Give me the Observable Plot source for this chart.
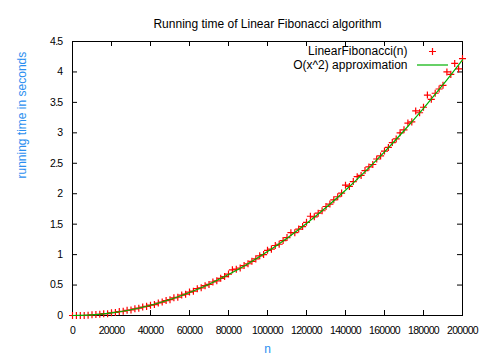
<!DOCTYPE html>
<html>
<head>
<meta charset="utf-8">
<script src="https://cdn.jsdelivr.net/npm/d3@7"></script>
<script src="https://cdn.jsdelivr.net/npm/@observablehq/plot@0.6"></script>
<style>
  html, body { margin: 0; padding: 0; background: #fff; }
  svg { display: block; }
  g[aria-label="x-axis tick label"] text, g[aria-label="y-axis tick label"] text { letter-spacing: -0.7px; }
</style>
</head>
<body>
<div id="chart"></div>
<script>
// Measured points: n (step 2000) and running time in seconds
const nValues = d3.range(0, 200001, 2000);
const measuredTimes = [
  0, 0, 0, 0, 0.004, 0.012, 0.016, 0.02, 0.03, 0.03,
  0.045, 0.05, 0.065, 0.07, 0.085, 0.09, 0.11, 0.12, 0.14, 0.15,
  0.17, 0.18, 0.205, 0.22, 0.245, 0.26, 0.29, 0.30, 0.335, 0.35,
  0.385, 0.40, 0.44, 0.455, 0.49, 0.51, 0.55, 0.57, 0.61, 0.64,
  0.68, 0.75, 0.76, 0.78, 0.82, 0.85, 0.89, 0.93, 0.98, 1.0,
  1.07, 1.09, 1.15, 1.17, 1.23, 1.28, 1.36, 1.36, 1.42, 1.46,
  1.53, 1.63, 1.62, 1.68, 1.72, 1.79, 1.83, 1.90, 1.95, 2.01,
  2.14, 2.12, 2.20, 2.28, 2.30, 2.38, 2.44, 2.48, 2.57, 2.62,
  2.70, 2.76, 2.84, 2.90, 3.0, 3.05, 3.16, 3.18, 3.36, 3.33,
  3.42, 3.62, 3.55, 3.65, 3.72, 3.78, 4.0, 3.96, 4.14, 4.05,
  4.22
];
// O(x^2) approximation curve, read every 10000
const approxN = d3.range(0, 200001, 10000);
const approxTimes = [
  0, 0.0105, 0.042, 0.0945, 0.168, 0.2625, 0.378, 0.5145, 0.672, 0.8505,
  1.05, 1.2705, 1.512, 1.7745, 2.058, 2.3625, 2.688, 3.0345, 3.402, 3.7905, 4.2
];
const xTicks = [0, 20000, 40000, 60000, 80000, 100000, 120000, 140000, 160000, 180000, 200000];
const yTicks = [0, 0.5, 1, 1.5, 2, 2.5, 3, 3.5, 4, 4.5];

const title = "Running time of Linear Fibonacci algorithm";
const xLabel = "n";
const yLabel = "running time in seconds";
const seriesNames = ["LinearFibonacci(n)", "O(x^2) approximation"];

const measured = nValues.map((n, i) => ({n, t: measuredTimes[i]}));
const approx = approxN.map((n, i) => ({n, t: approxTimes[i]}));

const RED = "#ff0000";
const GREEN = "#00b000";
const BLUE = "#2b8ff0";
const W = 480, H = 360, ML = 72, MR = 18, MT = 41, MB = 45;
const PW = W - ML - MR, PH = H - MT - MB;
const TICK = 5;

const chart = Plot.plot({
  width: W,
  height: H,
  marginLeft: ML,
  marginRight: MR,
  marginTop: MT,
  marginBottom: MB,
  style: {fontFamily: "'Liberation Sans', Arial, sans-serif", fontSize: "10.5px", background: "#fff", color: "#000"},
  x: {domain: [0, 200000]},
  y: {domain: [0, 4.5]},
  marks: [
    Plot.frame({stroke: "#000", strokeWidth: 1}),
    // inward tick marks on all four sides
    Plot.tickX(xTicks, {x: d => d, insetTop: PH - TICK, stroke: "#000"}),
    Plot.tickX(xTicks, {x: d => d, insetBottom: PH - TICK, stroke: "#000"}),
    Plot.tickY(yTicks, {y: d => d, insetRight: PW - TICK, stroke: "#000"}),
    Plot.tickY(yTicks, {y: d => d, insetLeft: PW - TICK, stroke: "#000"}),
    Plot.axisX({ticks: xTicks, tickSize: 0, tickPadding: 11, tickFormat: d3.format("d"), label: null}),
    Plot.axisY({ticks: yTicks, tickSize: 0, tickPadding: 10, tickFormat: d => String(d), label: null}),
    Plot.dot(measured, {x: "n", y: "t", symbol: "plus", r: 2.4, stroke: RED, strokeWidth: 1.2}),
    Plot.line(approx, {x: "n", y: "t", curve: "natural", stroke: GREEN, strokeWidth: 1.2}),
    // titles
    Plot.text([title], {text: d => d, frameAnchor: "top", dy: -22, fontSize: 12, fill: "#000"}),
    Plot.text([xLabel], {text: d => d, frameAnchor: "bottom", dy: 37, fontSize: 12, fill: BLUE}),
    Plot.text([yLabel], {text: d => d, frameAnchor: "left", dx: -50, rotate: -90, fontSize: 12, fill: BLUE}),
    // legend
    Plot.text([seriesNames[0]], {text: d => d, frameAnchor: "top-right", dx: -55, dy: 10, lineAnchor: "middle", textAnchor: "end", fontSize: 12, fill: "#000"}),
    Plot.text([seriesNames[1]], {text: d => d, frameAnchor: "top-right", dx: -55, dy: 24, lineAnchor: "middle", textAnchor: "end", fontSize: 12, fill: "#000"}),
    Plot.dot([0], {frameAnchor: "top-right", dx: -30, dy: 10, symbol: "plus", r: 2.4, stroke: RED, strokeWidth: 1.2})
  ]
});

// legend line sample for the approximation
d3.select(chart).append("line")
  .attr("x1", ML + PW - 45).attr("x2", ML + PW - 14)
  .attr("y1", MT + 24).attr("y2", MT + 24)
  .attr("stroke", GREEN).attr("stroke-width", 1.2);

document.getElementById("chart").appendChild(chart);
</script>
</body>
</html>
